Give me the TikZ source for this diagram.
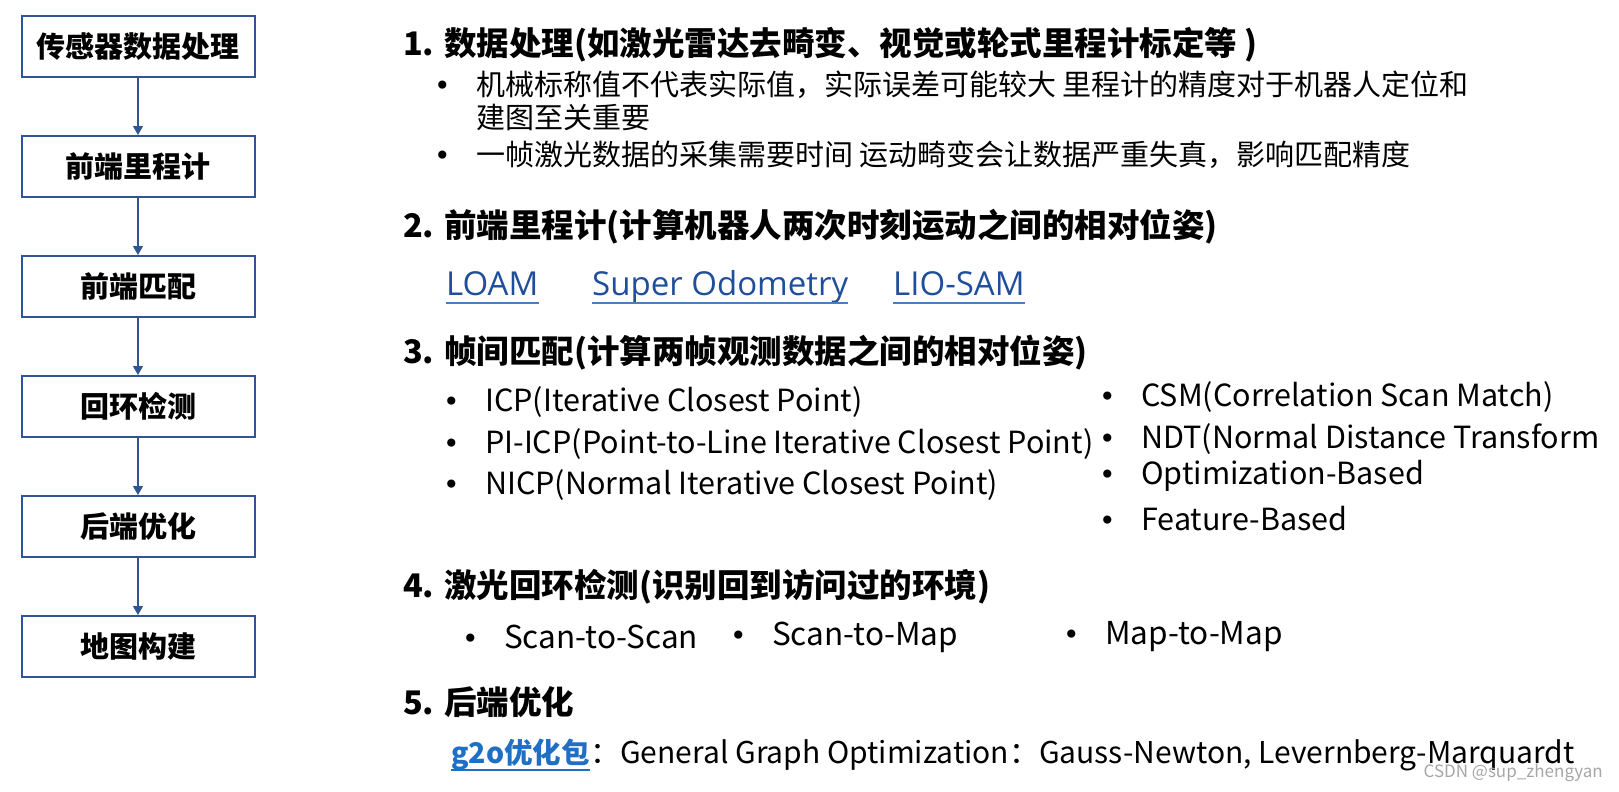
\documentclass[tikz,border=0pt]{standalone}
\usepackage{fontspec}
\setmainfont{Noto Sans CJK SC}
\newfontfamily\linkfont{Open Sans}
\newfontfamily\dotfont{DejaVu Sans}
\usetikzlibrary{positioning,arrows.meta}

\definecolor{boxblue}{HTML}{2F5597}
\definecolor{linkblue}{HTML}{1F4E9A}
\definecolor{lineblue}{HTML}{4A7EC0}
\definecolor{g2oblue}{HTML}{1F6FC5}

\tikzset{
  stage/.style={draw=boxblue, line width=2pt, minimum width=233pt, minimum height=61pt,
    inner sep=0pt, font=\fontsize{29}{32}\selectfont\bfseries},
  flow/.style={-{Triangle[width=10pt,length=9pt]}, draw=boxblue, line width=1.2pt},
  head/.style={anchor=west, inner sep=0pt, font=\fontsize{32.5}{36}\selectfont\bfseries},
  entry/.style={anchor=west, inner sep=0pt, align=left, font=\fontsize{29}{33}\selectfont},
  latin/.style={entry, font=\fontsize{30.5}{34}\selectfont},
  weblink/.style={anchor=base west, inner sep=0pt, text=linkblue, font=\linkfont\fontsize{33}{36}\selectfont},
  underl/.style={draw=lineblue, line width=1.5pt},
}
\newcommand\dotmark{\llap{\makebox[42pt][l]{\dotfont\fontsize{28}{30}\selectfont •}}}

\begin{document}
\begin{tikzpicture}[x=1pt, y=-1pt, node distance=57pt]
  \useasboundingbox (0,0) rectangle (1619,792);

  % pipeline
  \node[stage] (s1) at (138,46.5) {传感器数据处理};
  \node[stage, below=of s1] (s2) {前端里程计};
  \node[stage, below=of s2] (s3) {前端匹配};
  \node[stage, below=of s3] (s4) {回环检测};
  \node[stage, below=of s4] (s5) {后端优化};
  \node[stage, below=of s5] (s6) {地图构建};
  \draw[flow] (s1) -- (s2);
  \draw[flow] (s2) -- (s3);
  \draw[flow] (s3) -- (s4);
  \draw[flow] (s4) -- (s5);
  \draw[flow] (s5) -- (s6);

  % 1
  \node[head] (h1) at (403,45) {1. 数据处理(如激光雷达去畸变、视觉或轮式里程计标定等 )};
  \node[entry] (b11) at (476,101) {\dotmark 机械标称值不代表实际值，实际误差可能较大 里程计的精度对于机器人定位和\\建图至关重要};
  \node[entry] (b12) at (476,155) {\dotmark 一帧激光数据的采集需要时间 运动畸变会让数据严重失真，影响匹配精度};

  % 2
  \node[head] (h2) at (403,227) {2. 前端里程计(计算机器人两次时刻运动之间的相对位姿)};
  \node[weblink] (loam) at (446,295) {LOAM};
  \node[weblink] (superodom) at (592,295) {Super Odometry};
  \node[weblink] (liosam) at (893,295) {LIO-SAM};
  \draw[underl] ([yshift=-8pt]loam.base west) -- ([yshift=-8pt]loam.base east);
  \draw[underl] ([yshift=-8pt]superodom.base west) -- ([yshift=-8pt]superodom.base east);
  \draw[underl] ([yshift=-8pt]liosam.base west) -- ([yshift=-8pt]liosam.base east);

  % 3
  \node[head] (h3) at (403,353) {3. 帧间匹配(计算两帧观测数据之间的相对位姿)};
  \node[latin] (icp) at (485,402) {\dotmark ICP(Iterative Closest Point)};
  \node[latin] (plicp) at (485,444) {\dotmark PI-ICP(Point-to-Line Iterative Closest Point)};
  \node[latin] (nicp) at (485,485) {\dotmark NICP(Normal Iterative Closest Point)};
  \node[latin] (csm) at (1141,397) {\dotmark CSM(Correlation Scan Match)};
  \node[latin] (ndt) at (1141,439) {\dotmark NDT(Normal Distance Transform};
  \node[latin] (optb) at (1141,476) {\dotmark Optimization-Based};
  \node[latin] (featb) at (1141,519) {\dotmark Feature-Based};

  % 4
  \node[head] (h4) at (403,587) {4. 激光回环检测(识别回到访问过的环境)};
  \node[latin, font=\fontsize{31.5}{34}\selectfont] (s2s) at (504,637) {\dotmark Scan-to-Scan};
  \node[latin, font=\fontsize{31.5}{34}\selectfont] (s2m) at (772,637) {\dotmark Scan-to-Map};
  \node[latin, font=\fontsize{31.5}{34}\selectfont] (m2m) at (1105,637) {\dotmark Map-to-Map};

  % 5
  \node[head] (h5) at (403,702) {5. 后端优化};
  \node[entry, text=g2oblue, font=\fontsize{28.5}{33}\selectfont\bfseries] (g2o) at (451,755) {g2o优化包};
  \draw[draw=g2oblue, line width=1.5pt] ([yshift=-6pt]g2o.base west) -- ([yshift=-6pt]g2o.base east);
  \node[entry, anchor=base west, font=\fontsize{30}{33}\selectfont] (g2otext) at (g2o.base east) {：General Graph Optimization：Gauss-Newton, Levernberg-Marquardt};

  \node[anchor=east, inner sep=0pt, text=black!35, font=\fontsize{17}{20}\selectfont] (mark) at (1603,773) {CSDN @sup\_zhengyan};
\end{tikzpicture}
\end{document}
